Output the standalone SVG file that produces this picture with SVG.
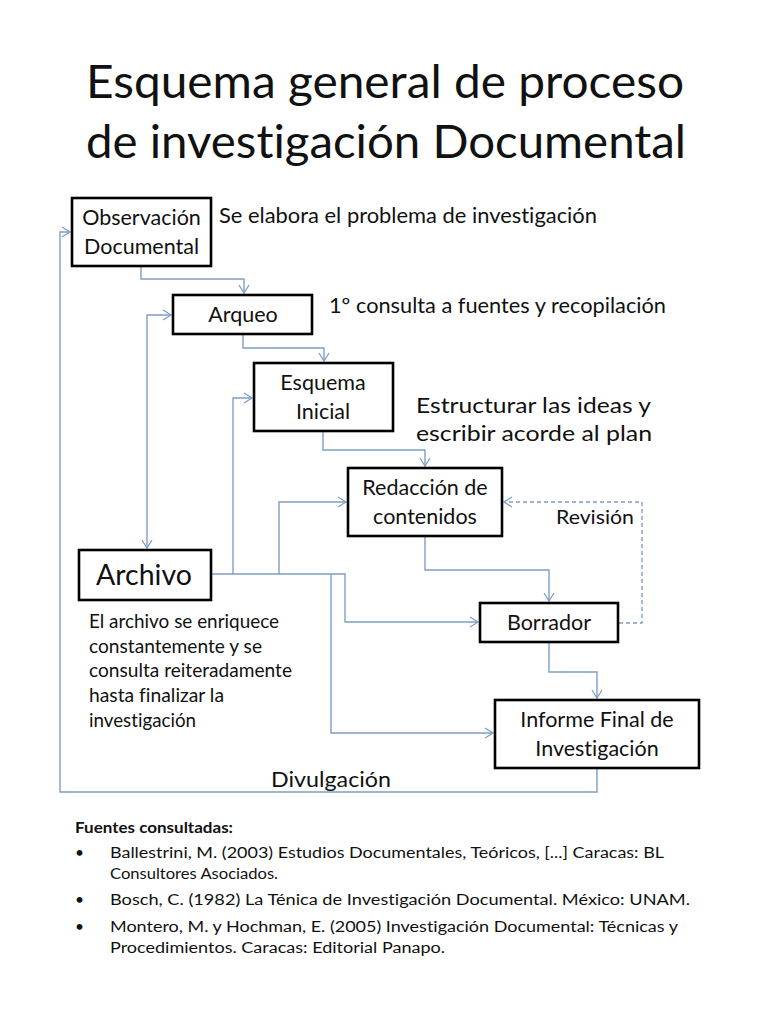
<svg xmlns="http://www.w3.org/2000/svg" width="768" height="1024" viewBox="0 0 768 1024">
<defs>
<marker id="arr" markerUnits="userSpaceOnUse" markerWidth="14" markerHeight="14" refX="9" refY="6" orient="auto-start-reverse" viewBox="0 0 14 12">
<path d="M1,1 L9,6 L1,11" fill="none" stroke="#7f9ec6" stroke-width="1.3"/>
</marker>
<style>
.box{fill:#fff;stroke:#000;stroke-width:2.6}
.t{font-family:Lato,"Open Sans","Liberation Sans",sans-serif;fill:#111;font-variant-ligatures:none}
.n{font-size:21.5px;text-anchor:middle}
.c{fill:none;stroke:#7f9ec6;stroke-width:1.4}
.ca{marker-end:url(#arr)}
.ref{font-size:15.5px}
</style>
</defs>
<rect width="768" height="1024" fill="#fff"/>
<g id="title" class="t">
<text x="86" y="98" font-size="47" textLength="598" lengthAdjust="spacingAndGlyphs">Esquema general de proceso</text>
<text x="86" y="158" font-size="47" textLength="600" lengthAdjust="spacingAndGlyphs">de investigación Documental</text>
</g>
<g id="connectors">
<path class="c ca" d="M141,267 V279 H244 V293"/>
<path class="c ca" d="M243,335 V348 H324 V361"/>
<path class="c ca" d="M323,432 V450 H425 V466"/>
<path class="c ca" d="M425,537 V570 H549 V601"/>
<path class="c ca" d="M549,643 V672 H597 V698"/>
<path class="c ca" d="M597,769 V792 H60 V232 H70"/>
<path class="c ca" d="M619,623 H642 V502 H504" stroke-dasharray="4,3"/>
<path class="c ca" d="M147,548 V315 H171" marker-start="url(#arr)"/>
<path class="c ca" d="M212,574 H345 V622 H478"/>
<path class="c ca" d="M233,574 V398 H252"/>
<path class="c ca" d="M279,574 V502 H346"/>
<path class="c ca" d="M331,574 V733 H493"/>
</g>
<g id="observacion">
<rect class="box" x="72" y="198" width="139" height="68"/>
<text class="t n" x="141.5" y="225">Observación</text>
<text class="t n" x="141.5" y="254">Documental</text>
</g>
<g id="arqueo">
<rect class="box" x="173" y="295" width="139" height="39"/>
<text class="t n" x="243" y="322">Arqueo</text>
</g>
<g id="esquema">
<rect class="box" x="254" y="363" width="139" height="68"/>
<text class="t n" x="323" y="390">Esquema</text>
<text class="t n" x="323" y="419">Inicial</text>
</g>
<g id="redaccion">
<rect class="box" x="348" y="468" width="154" height="68"/>
<text class="t n" x="425" y="495">Redacción de</text>
<text class="t n" x="425" y="524">contenidos</text>
</g>
<g id="borrador">
<rect class="box" x="480" y="603" width="138" height="39"/>
<text class="t n" x="549" y="630">Borrador</text>
</g>
<g id="informe">
<rect class="box" x="495" y="700" width="204" height="68"/>
<text class="t n" x="597" y="727">Informe Final de</text>
<text class="t n" x="597" y="756">Investigación</text>
</g>
<g id="archivo">
<rect class="box" x="79" y="550" width="132" height="50"/>
<text class="t" x="144" y="585" font-size="28.5" text-anchor="middle">Archivo</text>
</g>
<g id="labels" class="t">
<text x="219" y="223" font-size="21" textLength="378" lengthAdjust="spacingAndGlyphs">Se elabora el problema de investigación</text>
<text x="329" y="313" font-size="21" textLength="337" lengthAdjust="spacingAndGlyphs">1º consulta a fuentes y recopilación</text>
<text x="416" y="413" font-size="21" textLength="235" lengthAdjust="spacingAndGlyphs">Estructurar las ideas y</text>
<text x="416" y="441" font-size="21" textLength="236" lengthAdjust="spacingAndGlyphs">escribir acorde al plan</text>
<text x="556" y="524" font-size="20" textLength="78" lengthAdjust="spacingAndGlyphs">Revisión</text>
<text x="271" y="787" font-size="22" textLength="120" lengthAdjust="spacingAndGlyphs">Divulgación</text>
<g font-size="19">
<text x="89" y="628" textLength="190" lengthAdjust="spacingAndGlyphs">El archivo se enriquece</text>
<text x="89" y="653" textLength="173" lengthAdjust="spacingAndGlyphs">constantemente y se</text>
<text x="89" y="677" textLength="203" lengthAdjust="spacingAndGlyphs">consulta reiteradamente</text>
<text x="89" y="702" textLength="135" lengthAdjust="spacingAndGlyphs">hasta finalizar la</text>
<text x="89" y="727" textLength="107" lengthAdjust="spacingAndGlyphs">investigación</text>
</g>
</g>
<g id="references" class="t ref">
<text x="75" y="833" font-weight="bold" font-size="16" textLength="158" lengthAdjust="spacingAndGlyphs">Fuentes consultadas:</text>
<text x="75" y="858">•</text>
<text x="110" y="858" textLength="554" lengthAdjust="spacingAndGlyphs">Ballestrini, M. (2003) Estudios Documentales, Teóricos, [...] Caracas: BL</text>
<text x="110" y="879" textLength="168" lengthAdjust="spacingAndGlyphs">Consultores Asociados.</text>
<text x="75" y="905">•</text>
<text x="110" y="905" textLength="580" lengthAdjust="spacingAndGlyphs">Bosch, C. (1982) La Ténica de Investigación Documental. México: UNAM.</text>
<text x="75" y="932">•</text>
<text x="110" y="932" textLength="568" lengthAdjust="spacingAndGlyphs">Montero, M. y Hochman, E. (2005) Investigación Documental: Técnicas y</text>
<text x="110" y="953" textLength="335" lengthAdjust="spacingAndGlyphs">Procedimientos. Caracas: Editorial Panapo.</text>
</g>
</svg>
